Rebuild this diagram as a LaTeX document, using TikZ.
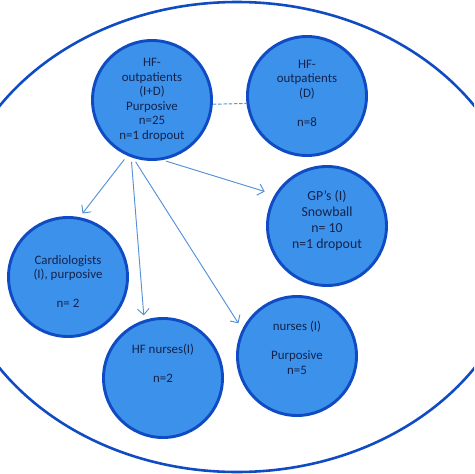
\documentclass[tikz,border=0pt]{standalone}
\usepackage{fontspec}
\setmainfont{Carlito}
\usetikzlibrary{arrows.meta}

\definecolor{grpfill}{RGB}{60,145,235}
\definecolor{grpline}{RGB}{15,75,195}
\definecolor{linkblue}{RGB}{85,145,215}
\definecolor{txtcol}{RGB}{20,35,75}

\tikzset{
  grp/.style={circle, fill=grpfill, draw=grpline, line width=2.5pt,
    minimum size=3.57cm, inner sep=0pt},
  txt/.style={align=center, text=txtcol, font=\fontsize{11}{12.4}\selectfont},
  link/.style={draw=linkblue, line width=0.8pt,
    -{Straight Barb[length=5pt,width=10pt]}},
}

\begin{document}
\begin{tikzpicture}[x=0.03cm, y=-0.03cm]
  \useasboundingbox (0,0) rectangle (474,474);
  \clip (0,0) rectangle (474,474);

  % Outer frame, cut by the page
  \draw[grpline, line width=2.2pt] (237,237) ellipse [x radius=286, y radius=235];

  % Participant groups
  \node[grp, label={[txt]center:HF-\\outpatients\\(I+D)\\Purposive\\n=25\\n=1 dropout}]
    (hfid) at (152,100) {};
  \node[grp, label={[txt, yshift=2.5pt]center:HF-\\outpatients\\(D)\\[12.4pt]n=8}]
    (hfd) at (307,96) {};
  \node[grp, label={[txt, yshift=4.7pt, font=\fontsize{11.8}{13.6}\selectfont]center:GP’s (I)\\Snowball\\n= 10\\n=1 dropout}]
    (gps) at (327,226) {};
  \node[grp, label={[txt, yshift=-3.8pt]center:Cardiologists\\(I), purposive\\[12.4pt]n= 2}]
    (card) at (68,277) {};
  \node[grp, label={[txt, yshift=12.8pt]center:HF nurses(I)\\[12.4pt]n=2}]
    (hfnur) at (163,378) {};
  \node[grp, label={[txt, yshift=6.8pt]center:nurses (I)\\[12.4pt]Purposive\\n=5}]
    (nur) at (297,356) {};

  % Same patient group, two roles
  \draw[linkblue, line width=0.8pt, dash pattern=on 3pt off 1.5pt] (hfid.-4) -- (hfd.187);

  % Recruitment from the outpatients
  \draw[link, shorten <=4pt, shorten >=4pt] (hfid.246) -- (card.79);
  \draw[link, shorten <=4pt, shorten >=4pt] (hfid.250) -- (hfnur.108);
  \draw[link, shorten <=4pt, shorten >=6pt] (hfid.252) -- (nur.154);
  \draw[link, shorten <=3pt, shorten >=9pt] (hfid.280) -- (gps.149);
\end{tikzpicture}
\end{document}
